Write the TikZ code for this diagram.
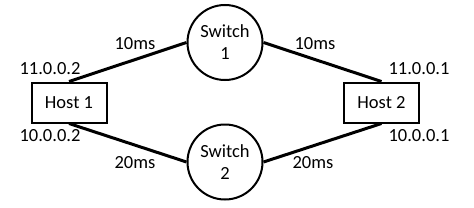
\documentclass[tikz,border=0pt]{standalone}
\usepackage{fontspec}
\setmainfont{Carlito}
\usepackage{tikz}
\tikzset{
  host/.style={rectangle, draw, line width=2pt, minimum width=75pt, minimum height=40pt,
               inner sep=0pt, font=\fontsize{18.5}{22}\selectfont},
  switch/.style={circle, draw, line width=2pt, minimum size=75pt, inner sep=0pt,
                 align=center, font=\fontsize{18.5}{22}\selectfont},
  lbl/.style={font=\fontsize{18.5}{22}\selectfont, inner sep=0pt},
  link/.style={line width=3pt}
}
\begin{document}
\begin{tikzpicture}[x=1pt, y=1pt]
  \useasboundingbox (0,0) rectangle (474,207);
  \node[host] (h1) at (69,104.5) {Host 1};
  \node[host] (h2) at (381.5,104.5) {Host 2};
  \node[switch] (s1) at (225,164.5) {Switch\\1};
  \node[switch] (s2) at (225,45) {Switch\\2};
  % links
  \draw[link] (h1.north) -- (s1.west);
  \draw[link] (s1.east) -- (h2.north);
  \draw[link] (h1.south) -- (s2.west);
  \draw[link] (s2.east) -- (h2.south);
  % delays
  \node[lbl] (d1) at (135,163) {10ms};
  \node[lbl] (d2) at (315,163) {10ms};
  \node[lbl] (d3) at (135,44) {20ms};
  \node[lbl] (d4) at (313,44) {20ms};
  % addresses
  \node[lbl] (a1) at (50,138) {11.0.0.2};
  \node[lbl] (a2) at (50,71) {10.0.0.2};
  \node[lbl] (a3) at (419,138) {11.0.0.1};
  \node[lbl] (a4) at (419,71) {10.0.0.1};
\end{tikzpicture}
\end{document}
